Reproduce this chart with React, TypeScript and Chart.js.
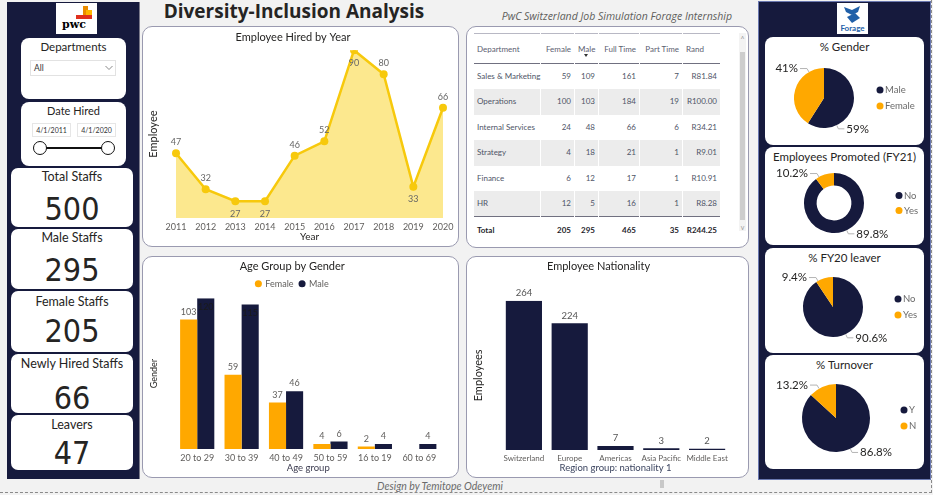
import React, { useEffect, useRef } from "react";
import { Chart, registerables } from "chart.js";
Chart.register(...registerables);

// ---------------- DATA ----------------
const hireYears = ["2011", "2012", "2013", "2014", "2015", "2016", "2017", "2018", "2019", "2020"];
const hiredCounts = [47, 32, 27, 27, 46, 52, 90, 80, 33, 66];

const ageGroups = ["20 to 29", "30 to 39", "40 to 49", "50 to 59", "16 to 19", "60 to 69"];
const ageFemale: (number | null)[] = [103, 59, 37, 4, 2, null];
const ageMale = [120, 115, 46, 6, 4, 4];

const regions = ["Switzerland", "Europe", "Americas", "Asia Pacific", "Middle East"];
const regionCounts = [264, 224, 7, 3, 2];

const genderLabels = ["Male", "Female"];
const genderShare = [59, 41];
const promotedLabels = ["No", "Yes"];
const promotedShare = [89.8, 10.2];
const leaverLabels = ["No", "Yes"];
const leaverShare = [90.6, 9.4];
const turnoverLabels = ["Y", "N"];
const turnoverShare = [86.8, 13.2];

const tableHeaders = ["Department", "Female", "Male", "Full Time", "Part Time", "Rand"];
const deptNames = ["Sales & Marketing", "Operations", "Internal Services", "Strategy", "Finance", "HR"];
const deptFemale = [59, 100, 24, 4, 6, 12];
const deptMale = [109, 103, 48, 18, 12, 5];
const deptFullTime = [161, 184, 66, 21, 17, 16];
const deptPartTime = [7, 19, 6, 1, 1, 1];
const deptRand = [81.84, 100.0, 34.21, 9.01, 10.91, 8.28];

const kpiLabels = ["Total Staffs", "Male Staffs", "Female Staffs", "Newly Hired Staffs", "Leavers"];
const kpiValues = [500, 295, 205, 66, 47];

// ---------------- STYLE ----------------
const F = "'Segoe UI', Lato, 'Noto Sans', sans-serif";
const WIDE = "'Open Sans', 'Noto Sans', sans-serif";
const NUMF = "'DejaVu Sans Condensed', 'DejaVu Sans', sans-serif";
const NAVY = "#161a3d";
const ORANGE = "#ffa800";
const YELLOW = "#f7c90c";
const YELLOW_FILL = "rgba(252, 229, 130, 0.9)";
const DARK = "#252423";
const GRAY = "#605e5c";
const BG = "#f2f2f2";

const KPI_BOXES = [
  { top: 168, h: 59, ly: 9, vy: 41 },
  { top: 229, h: 60, ly: 9, vy: 41 },
  { top: 291, h: 61, ly: 11, vy: 40 },
  { top: 354, h: 59, ly: 10, vy: 44 },
  { top: 415, h: 55, ly: 10, vy: 38 },
];

const TABLE_COLS = [
  { x: 474, w: 66, align: "left" },
  { x: 541, w: 33, align: "right" },
  { x: 575, w: 23, align: "right" },
  { x: 599, w: 40, align: "right" },
  { x: 640, w: 42, align: "right" },
  { x: 683, w: 37, align: "right" },
];

// ---------------- PLUGINS ----------------
const lineLabels = {
  id: "lineLabels",
  afterDatasetsDraw(chart: any) {
    const ctx = chart.ctx;
    const data = chart.data.datasets[0].data as number[];
    const maxV = Math.max(...data);
    const meta = chart.getDatasetMeta(0);
    ctx.save();
    ctx.font = `9px ${F}`;
    ctx.fillStyle = "#666666";
    ctx.textAlign = "center";
    ctx.textBaseline = "middle";
    meta.data.forEach((pt: any, i: number) => {
      const v = data[i];
      const prev = data[i - 1];
      const next = data[i + 1];
      const localMin = (prev === undefined || v <= prev) && (next === undefined || v <= next);
      const below = v === maxV || localMin;
      ctx.fillText(String(v), pt.x, pt.y + (below ? 12.5 : -11));
    });
    ctx.restore();
  },
};

function barLabels(allowInside: boolean, size: number, color: string) {
  return {
    id: "barLabels",
    afterDatasetsDraw(chart: any) {
      const ctx = chart.ctx;
      ctx.save();
      ctx.font = `${size}px ${F}`;
      ctx.textAlign = "center";
      ctx.textBaseline = "middle";
      chart.data.datasets.forEach((ds: any, di: number) => {
        const meta = chart.getDatasetMeta(di);
        meta.data.forEach((bar: any, i: number) => {
          const v = ds.data[i];
          if (v === null || v === undefined) return;
          let y = bar.y - 7.7;
          ctx.fillStyle = color;
          if (allowInside && y - 4 < chart.chartArea.top) {
            y = bar.y + 8.7;
            ctx.fillStyle = "#1a1a1a";
          }
          ctx.fillText(String(v), bar.x, y);
        });
      });
      ctx.restore();
    },
  };
}

function pieDecor(legendDx: number, legendGap: number) {
  return {
    id: "pieDecor",
    afterDraw(chart: any) {
      const ctx = chart.ctx;
      const values = chart.data.datasets[0].data as number[];
      const colors = chart.data.datasets[0].backgroundColor as string[];
      const labels = chart.data.labels as string[];
      const maxV = Math.max(...values);
      const meta = chart.getDatasetMeta(0);
      ctx.save();
      meta.data.forEach((arc: any, i: number) => {
        const { x, y, outerRadius } = arc.getProps(["x", "y", "outerRadius"], true);
        const big = values[i] === maxV;
        const ang = ((big ? 155 : 330) * Math.PI) / 180;
        const sx = x + outerRadius * Math.sin(ang);
        const sy = y - outerRadius * Math.cos(ang);
        const ex = x + (outerRadius + 4) * Math.sin(ang);
        const ey = y - (outerRadius + 4) * Math.cos(ang);
        const hx = ex + (big ? 6 : -7);
        ctx.strokeStyle = "#b4b4b4";
        ctx.lineWidth = 1;
        ctx.beginPath();
        ctx.moveTo(sx, sy);
        ctx.lineTo(ex, ey);
        ctx.lineTo(hx, ey);
        ctx.stroke();
        const v = values[i];
        const txt = Number.isInteger(v) ? `${v}%` : `${v.toFixed(1)}%`;
        ctx.font = `11.5px ${F}`;
        ctx.fillStyle = DARK;
        ctx.textBaseline = "middle";
        ctx.textAlign = big ? "left" : "right";
        ctx.fillText(txt, hx + (big ? 2 : -2), ey);
      });
      const ca = chart.chartArea;
      const cy = (ca.top + ca.bottom) / 2;
      const lx = ca.right + legendDx;
      labels.forEach((lab, i) => {
        const yy = cy + (i - (labels.length - 1) / 2) * legendGap;
        ctx.fillStyle = colors[i];
        ctx.beginPath();
        ctx.arc(lx, yy, 3.5, 0, Math.PI * 2);
        ctx.fill();
        ctx.fillStyle = "#6a6a6a";
        ctx.font = `9.5px ${F}`;
        ctx.textAlign = "left";
        ctx.textBaseline = "middle";
        ctx.fillText(lab, lx + 5, yy);
      });
      ctx.restore();
    },
  };
}

// ---------------- CHART CONFIGS ----------------
const hiddenGrid = { display: false, drawTicks: false };

function makeLine(): any {
  return {
    type: "line",
    data: {
      labels: hireYears,
      datasets: [
        {
          data: hiredCounts,
          borderColor: YELLOW,
          backgroundColor: YELLOW_FILL,
          fill: "start",
          borderWidth: 2.5,
          pointRadius: 4,
          pointBackgroundColor: YELLOW,
          pointBorderColor: YELLOW,
          pointBorderWidth: 0,
          tension: 0,
        },
      ],
    },
    options: {
      responsive: false,
      animation: false,
      devicePixelRatio: 1,
      layout: { padding: { left: 0, right: 15, top: 0, bottom: 0 } },
      plugins: {
        legend: { display: false },
        tooltip: { enabled: false },
        title: {
          display: true,
          text: "Employee Hired by Year",
          color: DARK,
          font: { family: F, size: 11, weight: "normal" },
          padding: { top: 3.5, bottom: 6.5 },
        },
      },
      scales: {
        x: {
          grid: hiddenGrid,
          border: { display: false },
          ticks: { color: GRAY, font: { family: F, size: 9 }, padding: 4, autoSkip: false, maxRotation: 0 },
          title: { display: true, text: "Year", color: DARK, font: { family: F, size: 10 }, padding: { top: 0, bottom: 3 } },
          afterFit: (s: any) => {
            s.height = 28;
          },
        },
        y: {
          min: 20,
          max: 90,
          grid: hiddenGrid,
          border: { display: false },
          ticks: { display: false },
          title: { display: true, text: "Employee", color: DARK, font: { family: F, size: 11 }, padding: { top: 4, bottom: 0 } },
          afterFit: (s: any) => {
            s.width = 33;
          },
        },
      },
    },
    plugins: [lineLabels],
  };
}

function makeAge(): any {
  return {
    type: "bar",
    data: {
      labels: ageGroups,
      datasets: [
        { label: "Female", data: ageFemale, backgroundColor: ORANGE, borderWidth: 0, categoryPercentage: 0.77, barPercentage: 1 },
        { label: "Male", data: ageMale, backgroundColor: NAVY, borderWidth: 0, categoryPercentage: 0.77, barPercentage: 1 },
      ],
    },
    options: {
      responsive: false,
      animation: false,
      devicePixelRatio: 1,
      layout: { padding: { left: 0, right: 16.5, top: 0, bottom: 0 } },
      plugins: {
        tooltip: { enabled: false },
        title: {
          display: true,
          text: "Age Group by Gender",
          color: DARK,
          font: { family: F, size: 11, weight: "normal" },
          padding: { top: 3, bottom: 0 },
        },
        legend: {
          display: true,
          position: "top",
          labels: {
            usePointStyle: true,
            pointStyle: "circle",
            boxWidth: 5,
            boxHeight: 5,
            padding: 6,
            color: GRAY,
            font: { family: F, size: 9 },
          },
        },
      },
      scales: {
        x: {
          grid: hiddenGrid,
          border: { display: false },
          ticks: { color: GRAY, font: { family: F, size: 9 }, padding: 3.5, autoSkip: false, maxRotation: 0 },
          title: { display: true, text: "Age group", color: "#3c3c50", font: { family: F, size: 9.5 }, padding: { top: 0, bottom: 3.3 } },
          afterFit: (s: any) => {
            s.height = 28;
          },
        },
        y: {
          min: 0,
          max: 120,
          grid: hiddenGrid,
          border: { display: false },
          ticks: { display: false },
          title: { display: true, text: "Gender", color: DARK, font: { family: F, size: 9 }, padding: { top: 6, bottom: 0 } },
          afterFit: (s: any) => {
            s.width = 32;
          },
        },
      },
    },
    plugins: [barLabels(true, 9, GRAY)],
  };
}

function makeNationality(): any {
  return {
    type: "bar",
    data: {
      labels: regions,
      datasets: [{ data: regionCounts, backgroundColor: NAVY, borderWidth: 0, categoryPercentage: 0.79, barPercentage: 1 }],
    },
    options: {
      responsive: false,
      animation: false,
      devicePixelRatio: 1,
      layout: { padding: { left: 0, right: 18, top: 0, bottom: 0 } },
      plugins: {
        legend: { display: false },
        tooltip: { enabled: false },
        title: {
          display: true,
          text: "Employee Nationality",
          color: DARK,
          font: { family: F, size: 11, weight: "normal" },
          padding: { top: 3, bottom: 27.5 },
        },
      },
      scales: {
        x: {
          grid: hiddenGrid,
          border: { display: false },
          ticks: { color: GRAY, font: { family: F, size: 8 }, padding: 3.3, autoSkip: false, maxRotation: 0 },
          title: {
            display: true,
            text: "Region group: nationality 1",
            color: "#3c4560",
            font: { family: F, size: 9.5 },
            padding: { top: 0, bottom: 3.3 },
          },
          afterFit: (s: any) => {
            s.height = 27;
          },
        },
        y: {
          min: 0,
          max: Math.max(...regionCounts),
          grid: hiddenGrid,
          border: { display: false },
          ticks: { display: false },
          title: { display: true, text: "Employees", color: DARK, font: { family: F, size: 11 }, padding: { top: 4.4, bottom: 0 } },
          afterFit: (s: any) => {
            s.width = 34;
          },
        },
      },
    },
    plugins: [barLabels(false, 9.5, "#555555")],
  };
}

function makePie(labels: string[], values: number[], cutout: string, pad: any, legendDx: number, legendGap: number): any {
  return {
    type: "doughnut",
    data: { labels, datasets: [{ data: values, backgroundColor: [NAVY, ORANGE], borderWidth: 0 }] },
    options: {
      responsive: false,
      animation: false,
      devicePixelRatio: 1,
      cutout,
      layout: { padding: pad },
      plugins: {
        legend: { display: false },
        tooltip: { enabled: false },
        title: { display: false },
      },
    },
    plugins: [pieDecor(legendDx, legendGap)],
  };
}

// ---------------- COMPONENTS ----------------
function ChartCanvas({ left, top, width, height, make }: { left: number; top: number; width: number; height: number; make: () => any }) {
  const ref = useRef<HTMLCanvasElement>(null);
  useEffect(() => {
    const chart = new Chart(ref.current as HTMLCanvasElement, make());
    return () => chart.destroy();
  }, []);
  return <canvas ref={ref} width={width} height={height} style={{ position: "absolute", left, top, width, height }} />;
}

const abs = (left: number, top: number, width: number, height: number, extra: any = {}) => ({
  position: "absolute" as const,
  left,
  top,
  width,
  height,
  boxSizing: "border-box" as const,
  ...extra,
});

function Card({ left, top, width, height }: { left: number; top: number; width: number; height: number }) {
  return <div style={abs(left, top, width, height, { background: "#fff", border: "1px solid #9a9ab0", borderRadius: 10 })} />;
}

function DataTable() {
  const rows = deptNames.map((n, i) => [n, String(deptFemale[i]), String(deptMale[i]), String(deptFullTime[i]), String(deptPartTime[i]), `R${deptRand[i].toFixed(2)}`]);
  const sum = (a: number[]) => a.reduce((s, v) => s + v, 0);
  const total = [
    "Total",
    String(sum(deptFemale)),
    String(sum(deptMale)),
    String(sum(deptFullTime)),
    String(sum(deptPartTime)),
    `R${sum(deptRand).toFixed(2)}`,
  ];
  const cell = (txt: string, c: number, top: number, h: number, extra: any = {}, alignOverride?: string) => {
    const col = TABLE_COLS[c];
    const align = alignOverride || col.align;
    return (
      <div
        key={`${c}-${top}`}
        style={abs(col.x, top, col.w, h, {
          lineHeight: `${h}px`,
          textAlign: align,
          paddingLeft: 3,
          paddingRight: 3,
          fontFamily: F,
          fontSize: 8,
          color: "#4f5567",
          whiteSpace: "nowrap",
          overflow: "visible",
          ...extra,
        })}
      >
        {txt}
      </div>
    );
  };
  const HT = 33;
  const HH = 31;
  const RH = 25.4;
  const RT = HT + HH;
  return (
    <>
      {tableHeaders.map((h, c) =>
        cell(h, c, HT, HH, { borderTop: "1px solid #b8b8c4", borderBottom: "1px solid #707080", color: "#5b6070" }, c === 5 ? "left" : undefined)
      )}
      <div style={abs(584, 53.5, 0, 0, { borderLeft: "2.5px solid transparent", borderRight: "2.5px solid transparent", borderTop: "3px solid #333" })} />
      {rows.map((r, i) =>
        r.map((t, c) => cell(t, c, RT + i * RH, RH, { background: i % 2 === 1 ? "#ececec" : "transparent" }))
      )}
      {total.map((t, c) =>
        cell(t, c, RT + rows.length * RH, 26, { borderTop: "1px solid #707080", fontWeight: "bold", color: "#1e1e2a" })
      )}
      <div style={abs(739, 33, 7, 198, { background: "#f3f3f3" })} />
      <div style={abs(740, 52, 5, 168, { background: "#cdcdcd" })} />
      <div style={abs(737, 34, 11, 10, { fontSize: 7, color: "#999", textAlign: "center", fontFamily: F, lineHeight: "10px" })}>^</div>
      <div style={abs(737, 222, 11, 10, { fontSize: 7, color: "#999", textAlign: "center", fontFamily: F, lineHeight: "10px" })}>v</div>
    </>
  );
}

const PIE_CARDS = [
  { top: 37, h: 108, title: "% Gender" },
  { top: 147, h: 98, title: "Employees Promoted (FY21)" },
  { top: 248, h: 105, title: "% FY20 leaver" },
  { top: 355, h: 114, title: "% Turnover" },
];

export default function App() {
  return (
    <div style={{ position: "absolute", left: 0, top: 0, width: 933, height: 495, background: BG, overflow: "hidden", fontFamily: F }}>
      {/* dashed page border */}
      <div style={abs(0, 492, 932, 1, { borderTop: "1px dashed #8a8a8a" })} />
      <div style={abs(931, 0, 1, 493, { borderLeft: "1px dashed #8a8a8a" })} />

      {/* left navy panel */}
      <div style={abs(7, 2, 133, 477, { background: NAVY, borderRight: "1px solid #7a7a8a" })} />
      <div style={abs(56, 3, 41, 31, { background: "#fff" })}>
        <div style={abs(27, 3, 5, 11, { background: "#eb8c00" })} />
        <div style={abs(30, 7, 6, 7, { background: "#ffb600" })} />
        <div style={abs(20, 12, 16, 4, { background: "#e0301e" })} />
        <div style={abs(6, 15, 30, 14, { fontFamily: "'DejaVu Serif', 'Liberation Serif', serif", fontWeight: "bold", fontSize: 11, color: "#000", lineHeight: "14px" })}>
          pwc
        </div>
      </div>

      {/* Departments slicer */}
      <div style={abs(21, 38, 105, 61, { background: "#fff", borderRadius: 8 })}>
        <div style={abs(0, 1, 105, 16, { textAlign: "center", fontSize: 11.5, color: DARK, lineHeight: "16px" })}>Departments</div>
        <div style={abs(9, 22, 86, 16, { border: "1px solid #e2e2e2", fontSize: 8.5, color: "#333", lineHeight: "14px", paddingLeft: 3 })}>All</div>
        <svg style={{ position: "absolute", left: 84, top: 27 }} width="8" height="6">
          <polyline points="0.5,1 4,4.5 7.5,1" fill="none" stroke="#888" strokeWidth="1" />
        </svg>
      </div>

      {/* Date slicer */}
      <div style={abs(21, 102, 105, 64, { background: "#fff", borderRadius: 8 })}>
        <div style={abs(0, 1, 105, 16, { textAlign: "center", fontSize: 11, color: DARK, lineHeight: "16px" })}>Date Hired</div>
        <div style={abs(11, 21, 39, 14, { border: "1px solid #e6e6e6", fontSize: 7, color: "#333", lineHeight: "12px", textAlign: "center" })}>4/1/2011</div>
        <div style={abs(56, 21, 39, 14, { border: "1px solid #e6e6e6", fontSize: 7, color: "#333", lineHeight: "12px", textAlign: "center" })}>4/1/2020</div>
        <div style={abs(19, 45, 68, 2, { background: "#111" })} />
        <div style={abs(12, 39, 14, 14, { borderRadius: "50%", border: "1.5px solid #111", background: "#fff" })} />
        <div style={abs(80, 39, 14, 14, { borderRadius: "50%", border: "1.5px solid #111", background: "#fff" })} />
      </div>

      {/* KPI cards */}
      {kpiLabels.map((lab, i) => {
        const b = KPI_BOXES[i];
        return (
          <div key={lab} style={abs(11, b.top, 122, b.h, { background: "#fff", borderRadius: 7 })}>
            <div style={abs(0, b.ly - 8, 122, 16, { lineHeight: "16px", textAlign: "center", fontSize: 12.5, color: DARK, whiteSpace: "nowrap" })}>{lab}</div>
            <div style={abs(0, b.vy - 19, 122, 38, { lineHeight: "38px", textAlign: "center", fontSize: 32, color: DARK, fontFamily: NUMF })}>
              {kpiValues[i]}
            </div>
          </div>
        );
      })}

      {/* header */}
      <div style={abs(144, 0, 300, 24, { textAlign: "center", fontWeight: "bold", fontSize: 19, color: DARK, lineHeight: "23px", whiteSpace: "nowrap", fontFamily: WIDE })}>
        Diversity-Inclusion Analysis
      </div>
      <div style={abs(460, 8, 272, 16, { textAlign: "right", fontStyle: "italic", fontSize: 10.5, color: GRAY, lineHeight: "16px", whiteSpace: "nowrap", fontFamily: WIDE })}>
        PwC Switzerland Job Simulation Forage Internship
      </div>

      {/* main cards */}
      <Card left={142} top={26} width={317} height={221} />
      <Card left={466} top={26} width={283} height={222} />
      <Card left={142} top={256} width={317} height={222} />
      <Card left={466} top={256} width={283} height={222} />

      <ChartCanvas left={143} top={27} width={315} height={219} make={makeLine} />
      <DataTable />
      <ChartCanvas left={143} top={257} width={315} height={220} make={makeAge} />
      <ChartCanvas left={467} top={257} width={281} height={220} make={makeNationality} />

      {/* footer */}
      <div style={abs(315, 479, 250, 14, { textAlign: "center", fontStyle: "italic", fontSize: 10.5, color: "#6a6a6a", lineHeight: "14px", whiteSpace: "nowrap" })}>
        Design by Temitope Odeyemi
      </div>
      <div style={abs(660, 480, 4, 8, { background: "#c8c8c8" })} />

      {/* right navy panel */}
      <div style={abs(758, 1, 173, 479, { background: NAVY, border: "1px solid #6a78b0" })} />
      <div style={abs(837, 3, 31, 31, { background: "#fff" })}>
        <svg width="31" height="31" style={{ position: "absolute", left: 0, top: 0 }}>
          <polygon points="7,4 15,7 23,3 21,9 15,12 9,9" fill="#1f5fa8" />
          <polygon points="10,14 18,10 23,15 15,20" fill="#1f5fa8" />
        </svg>
        <div style={abs(0, 20, 31, 10, { fontSize: 8, color: "#1f5fa8", textAlign: "center", lineHeight: "10px", fontWeight: "bold" })}>Forage</div>
      </div>
      {PIE_CARDS.map((p) => (
        <div key={p.title} style={abs(765, p.top, 159, p.h, { background: "#fff", borderRadius: 8 })}>
          <div style={abs(0, 2, 159, 16, { textAlign: "center", fontSize: 11.5, color: DARK, lineHeight: "16px", whiteSpace: "nowrap" })}>{p.title}</div>
        </div>
      ))}
      <ChartCanvas
        left={765}
        top={37}
        width={159}
        height={108}
        make={() => makePie(genderLabels, genderShare, "0%", { left: 29, right: 70, top: 16.8, bottom: 2.8 }, 26, 16)}
      />
      <ChartCanvas
        left={765}
        top={147}
        width={159}
        height={98}
        make={() => makePie(promotedLabels, promotedShare, "58%", { left: 39, right: 60, top: 16.8, bottom: 2.8 }, 35, 15)}
      />
      <ChartCanvas
        left={765}
        top={248}
        width={159}
        height={105}
        make={() => makePie(leaverLabels, leaverShare, "0%", { left: 38, right: 61, top: 16.8, bottom: 3.8 }, 35, 16)}
      />
      <ChartCanvas
        left={765}
        top={355}
        width={159}
        height={114}
        make={() => makePie(turnoverLabels, turnoverShare, "0%", { left: 37, right: 54, top: 16.8, bottom: 4.8 }, 34, 16)}
      />
    </div>
  );
}
